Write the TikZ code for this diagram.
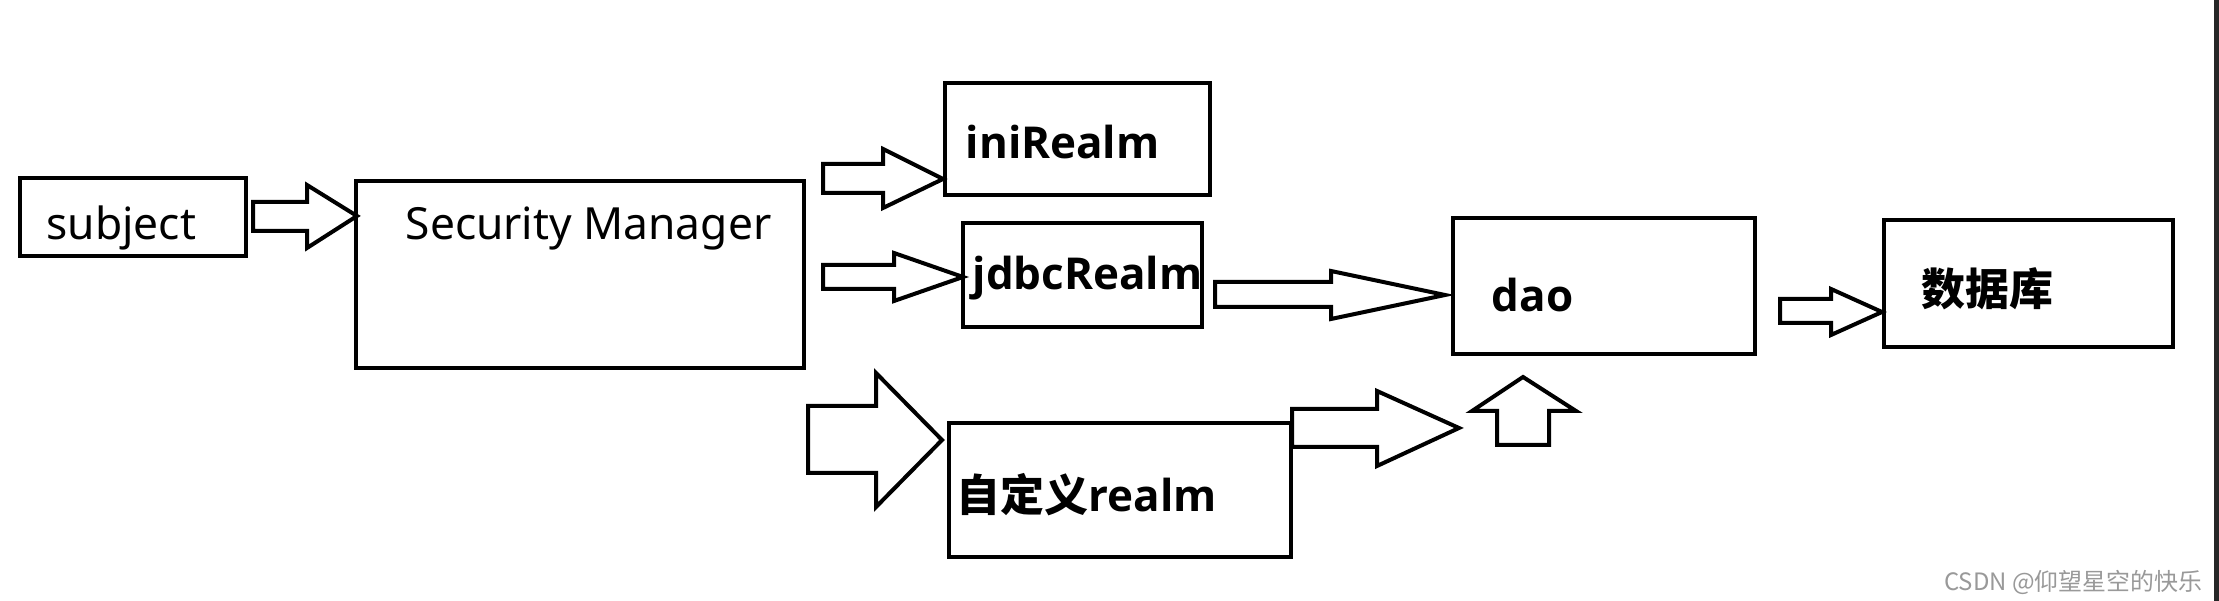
\documentclass[tikz,border=0pt]{standalone}
\usepackage{fontspec}
\setmainfont{Noto Sans}
\newfontfamily\cjk{Noto Sans CJK SC}
\newfontfamily\latb{Open Sans}
\definecolor{sideline}{HTML}{262626}
\definecolor{wmark}{HTML}{999999}

\begin{document}
\begin{tikzpicture}[x=0.01cm, y=-0.01cm,
    box/.style={rectangle, draw=black, line width=0.04cm, inner sep=0},
    txt/.style={anchor=base west, inner sep=0, font=\fontsize{12.6}{15}\selectfont},
    btxt/.style={anchor=base west, inner sep=0, font=\latb\fontsize{12.5}{15}\selectfont\bfseries},
    blk/.style={draw=black, line width=0.04cm, line join=miter}]
\useasboundingbox (0,0) rectangle (2219,601);
\fill[white] (0,0) rectangle (2219,601);
\fill[sideline] (2214,0) rectangle (2219,601);

% boxes
\node[box, minimum width=2.26cm, minimum height=0.78cm] (subj) at (133,217) {};
\node[box, minimum width=4.48cm, minimum height=1.87cm] (secmgr) at (580,274.5) {};
\node[box, minimum width=2.65cm, minimum height=1.12cm] (ini) at (1077.5,139) {};
\node[box, minimum width=2.39cm, minimum height=1.04cm] (jdbc) at (1082.5,275) {};
\node[box, minimum width=3.42cm, minimum height=1.34cm] (custom) at (1120,490) {};
\node[box, minimum width=3.02cm, minimum height=1.36cm] (dao) at (1604,286) {};
\node[box, minimum width=2.89cm, minimum height=1.27cm] (db) at (2028.5,283.5) {};

% texts
\node[txt] (subjtext) at (46,240) {subject};
\node[txt] (smtext) at (405,240) {Security Manager};
\node[btxt] (initext) at (965,159) {iniRealm};
\node[btxt] (jdbctext) at (972,290) {jdbcRealm};
\node[btxt] (custtext) at (956,511.7) {{\cjk 自定义}realm};
\node[btxt] (daotext) at (1491,311.7) {dao};
\node[btxt] (dbtext) at (1921,306) {\cjk 数据库};

% block arrows
\draw[blk] (253,202) -- (307,202) -- (307,185) -- (357,216) -- (307,248) -- (307,231) -- (253,231) -- cycle;
\draw[blk] (823,164) -- (883,164) -- (883,149) -- (943,179) -- (883,208) -- (883,193) -- (823,193) -- cycle;
\draw[blk] (823,265) -- (894,265) -- (894,253) -- (963,277) -- (894,301) -- (894,289) -- (823,289) -- cycle;
\draw[blk] (808,406) -- (876,406) -- (876,373) -- (942,440) -- (876,507) -- (876,473) -- (808,473) -- cycle;
\draw[blk] (1215,282) -- (1331,282) -- (1331,271) -- (1445,295) -- (1331,319) -- (1331,307) -- (1215,307) -- cycle;
\draw[blk] (1292,409) -- (1377,409) -- (1377,391) -- (1459,428) -- (1377,466) -- (1377,447) -- (1292,447) -- cycle;
\draw[blk] (1497,445) -- (1497,411) -- (1472,411) -- (1523,377) -- (1576,411) -- (1549,411) -- (1549,445) -- cycle;
\draw[blk] (1780,299) -- (1831,299) -- (1831,289) -- (1882,312) -- (1831,335) -- (1831,323) -- (1780,323) -- cycle;

\node[anchor=east, inner sep=0, text=wmark, font=\cjk\fontsize{6.8}{8}\selectfont] (csdn) at (2203,582) {CSDN @仰望星空的快乐};
\end{tikzpicture}
\end{document}
